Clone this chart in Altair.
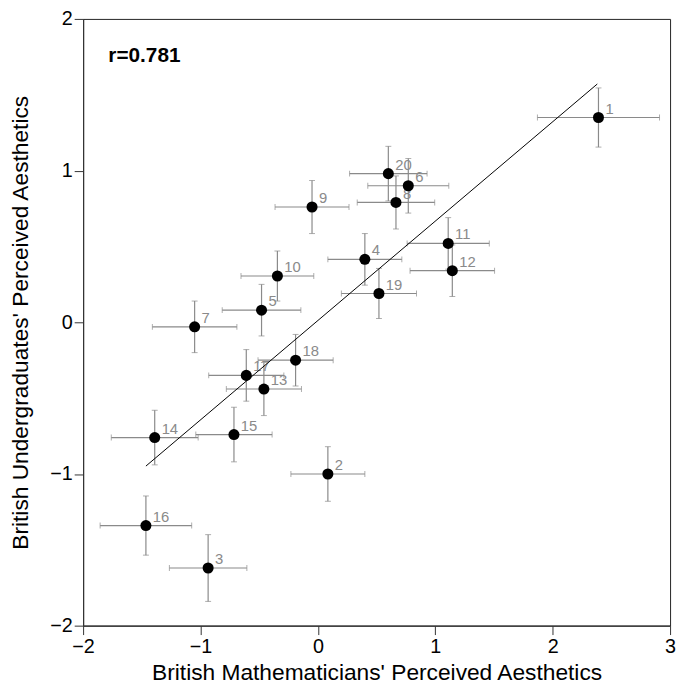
import altair as alt
import pandas as pd

# Point ids and values
ids = [1, 2, 3, 4, 5, 6, 7, 8, 9, 10, 11, 12, 13, 14, 15, 16, 17, 18, 19, 20]
math_x = [2.39, 0.085, -0.935, 0.40, -0.48, 0.77, -1.05, 0.665, -0.05, -0.345,
          1.11, 1.145, -0.46, -1.39, -0.715, -1.465, -0.61, -0.19, 0.52, 0.60]
ugrad_y = [1.35, -1.00, -1.62, 0.415, 0.08, 0.90, -0.03, 0.79, 0.76, 0.305,
           0.52, 0.34, -0.44, -0.76, -0.74, -1.34, -0.35, -0.25, 0.19, 0.98]
x_err = [0.52, 0.315, 0.33, 0.315, 0.335, 0.345, 0.36, 0.33, 0.315, 0.31,
         0.35, 0.36, 0.32, 0.37, 0.325, 0.39, 0.32, 0.32, 0.32, 0.33]
y_err = [0.195, 0.18, 0.22, 0.17, 0.17, 0.18, 0.17, 0.175, 0.175, 0.165,
         0.17, 0.17, 0.175, 0.18, 0.18, 0.195, 0.17, 0.17, 0.165, 0.18]

# Regression line end points
fit_x = [-1.465, 2.38]
fit_y = [-0.948, 1.571]

r_text = ["r=0.781"]
r_pos_x = [-1.785]
r_pos_y = [1.753]

x_ticks = [-2, -1.5, -1, -0.5, 0, 0.5, 1, 1.5, 2, 2.5, 3]
y_ticks = [-2, -1.5, -1, -0.5, 0, 0.5, 1, 1.5, 2]

df = pd.DataFrame({"id": ids, "x": math_x, "y": ugrad_y, "xe": x_err, "ye": y_err})
df["xlo"] = df["x"] - df["xe"]
df["xhi"] = df["x"] + df["xe"]
df["ylo"] = df["y"] - df["ye"]
df["yhi"] = df["y"] + df["ye"]
df["lab"] = df["id"].astype(str)

fit_df = pd.DataFrame({"x": fit_x, "y": fit_y})
r_df = pd.DataFrame({"t": r_text, "x": r_pos_x, "y": r_pos_y})

FONT = "Liberation Sans"
GREY = "#8a8a8a"

xscale = alt.Scale(domain=[-2, 3], nice=False, zero=False)
yscale = alt.Scale(domain=[-2, 2], nice=False, zero=False)

tick_size = {"condition": {"test": "datum.value % 1 === 0", "value": 9}, "value": 5}
label_expr = "datum.value % 1 === 0 ? datum.label : ''"

xaxis = alt.Axis(values=x_ticks, format="d", labelExpr=label_expr, tickSize=tick_size,
                 title="British Mathematicians' Perceived Aesthetics", grid=False,
                 labelFlush=False, labelFontSize=20, titleFontSize=23,
                 labelPadding=2, titlePadding=5)
yaxis = alt.Axis(values=y_ticks, format="d", labelExpr=label_expr, tickSize=tick_size,
                 title="British Undergraduates' Perceived Aesthetics", grid=False,
                 labelFlush=False, labelFontSize=20, titleFontSize=23,
                 labelPadding=2, titlePadding=17)

base = alt.Chart(df)

labels = base.mark_text(align="left", baseline="middle", dx=7, dy=-9, fontSize=15,
                        font=FONT, color=GREY).encode(
    x=alt.X("x:Q", scale=xscale, axis=xaxis),
    y=alt.Y("y:Q", scale=yscale, axis=yaxis),
    text="lab:N",
)

xbars = base.mark_rule(color=GREY, strokeWidth=1.2).encode(
    x=alt.X("xlo:Q", scale=xscale), x2="xhi:Q", y=alt.Y("y:Q", scale=yscale))
ybars = base.mark_rule(color=GREY, strokeWidth=1.2).encode(
    x=alt.X("x:Q", scale=xscale), y=alt.Y("ylo:Q", scale=yscale), y2="yhi:Q")

xcap_lo = base.mark_tick(orient="vertical", color=GREY, size=6, thickness=1).encode(
    x=alt.X("xlo:Q", scale=xscale), y=alt.Y("y:Q", scale=yscale))
xcap_hi = base.mark_tick(orient="vertical", color=GREY, size=6, thickness=1).encode(
    x=alt.X("xhi:Q", scale=xscale), y=alt.Y("y:Q", scale=yscale))
ycap_lo = base.mark_tick(orient="horizontal", color=GREY, size=6, thickness=1).encode(
    x=alt.X("x:Q", scale=xscale), y=alt.Y("ylo:Q", scale=yscale))
ycap_hi = base.mark_tick(orient="horizontal", color=GREY, size=6, thickness=1).encode(
    x=alt.X("x:Q", scale=xscale), y=alt.Y("yhi:Q", scale=yscale))

fit = alt.Chart(fit_df).mark_line(color="black", strokeWidth=1).encode(
    x=alt.X("x:Q", scale=xscale), y=alt.Y("y:Q", scale=yscale))

dots = base.mark_circle(color="black", size=125, opacity=1).encode(
    x=alt.X("x:Q", scale=xscale), y=alt.Y("y:Q", scale=yscale))

rlab = alt.Chart(r_df).mark_text(align="left", baseline="middle", fontSize=21,
                                 fontWeight="bold", font=FONT, color="black").encode(
    x=alt.X("x:Q", scale=xscale), y=alt.Y("y:Q", scale=yscale), text="t:N")

chart = alt.layer(labels, xbars, ybars, xcap_lo, xcap_hi, ycap_lo, ycap_hi,
                  fit, dots, rlab).properties(
    width=594, height=614,
    autosize=alt.AutoSizeParams(type="none"),
    padding={"left": 76, "top": 7, "right": 7, "bottom": 56},
).configure_view(stroke="#222", strokeWidth=1).configure_axis(
    labelFont=FONT, titleFont=FONT, labelColor="black", titleColor="black",
    titleFontWeight="normal", domainColor="#333", tickColor="#333", domainWidth=1.2,
    tickWidth=1,
)

chart.save("out.html", embed_options={"renderer": "svg", "actions": False})
